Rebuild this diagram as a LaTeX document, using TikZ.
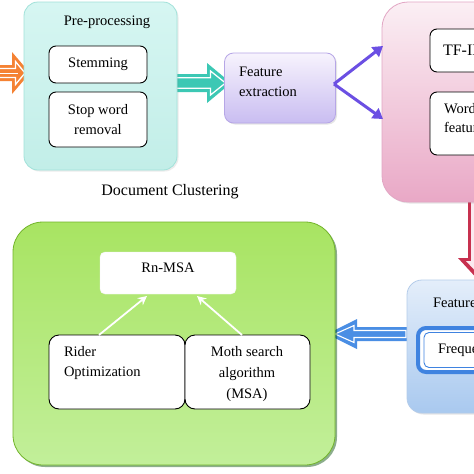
\documentclass[tikz,border=0pt]{standalone}
\usepackage{fontspec}
\setmainfont{Liberation Serif}
\usetikzlibrary{arrows.meta,shadows}
\definecolor{cyanT}{HTML}{D6F6F2}
\definecolor{cyanM}{HTML}{C2EEE8}
\definecolor{cyanB}{HTML}{A2E2DA}
\definecolor{featT}{HTML}{F7F3FD}
\definecolor{featBot}{HTML}{C9BDF1}
\definecolor{featB}{HTML}{B6A6E6}
\definecolor{pinkT}{HTML}{FBEFF4}
\definecolor{pinkBot}{HTML}{E9A8C6}
\definecolor{pinkB}{HTML}{E2A6C4}
\definecolor{grT}{HTML}{A8E462}
\definecolor{grM}{HTML}{8CDA30}
\definecolor{grB}{HTML}{C2EF9A}
\definecolor{grD}{HTML}{72B42A}
\definecolor{blT}{HTML}{E4EEFA}
\definecolor{blBot}{HTML}{A9C9EF}
\definecolor{blB}{HTML}{B4CCEA}
\definecolor{blA}{HTML}{4A8EE4}
\definecolor{blF}{HTML}{3F83E0}
\definecolor{redA}{HTML}{C7314F}
\definecolor{redI}{HTML}{FBEAF0}
\definecolor{orA}{HTML}{F58233}
\definecolor{teA}{HTML}{3CC8B4}
\definecolor{puA}{HTML}{6B4FE3}
\begin{document}
\begin{tikzpicture}[x=1pt,y=-1pt,
  txt/.style={font=\fontsize{14.5}{19.5}\selectfont, inner sep=0pt, outer sep=0pt, text=black},
  bigtxt/.style={font=\fontsize{16}{19.5}\selectfont, inner sep=0pt, outer sep=0pt, text=black},
  rbox/.style={draw=black, line width=0.9pt, fill=white, rounded corners=7pt, inner sep=0pt, outer sep=0pt},
  panel/.style={rounded corners=#1, inner sep=0pt, outer sep=0pt, line width=0.8pt},
  fatarrow/.style={fill=#1},
  innerline/.style={draw=white, line width=1.3pt, line join=miter},
]
\useasboundingbox (0,0) rectangle (474,474);
\clip (0,0) rectangle (474,474);
\fill[white] (0,0) rectangle (474,474);

% ---------- arrows behind panels ----------
% orange input arrow
\fill[fatarrow=orA] (-5,65) -- (12,65) -- (12,52) -- (30,73) -- (12,94) -- (12,81) -- (-5,81) -- cycle;
\draw[innerline] (-5,68.5) -- (15.5,68.5) -- (15.5,61.5) -- (25,73) -- (15.5,84.5) -- (15.5,77.5) -- (-5,77.5);
\draw[draw=white, line width=0.8pt] (-5,73) -- (18,73);

% teal arrow
\fill[fatarrow=teA] (170,74) -- (207,74) -- (207,63) -- (231,83) -- (207,103) -- (207,92) -- (170,92) -- cycle;
\draw[innerline] (170,77.8) -- (210.5,77.8) -- (210.5,71) -- (225.5,83) -- (210.5,95) -- (210.5,88.2) -- (170,88.2);

% ---------- Pre-processing panel ----------
\node[panel=14pt, draw=cyanB, top color=cyanT, bottom color=cyanM,
      minimum width=153pt, minimum height=168pt,
      drop shadow={shadow xshift=1.5pt, shadow yshift=-1.5pt, opacity=0.15}] (pre) at (100.5,86) {};
\node[txt] (preT) at (107,22) {Pre-processing};
\node[rbox, txt, minimum width=98pt, minimum height=37pt] (stem) at (98,64.5) {Stemming};
\node[rbox, txt, minimum width=98pt, minimum height=55pt, align=center] (stop) at (98,119.5) {Stop word\\removal};

% ---------- Feature extraction ----------
\node[panel=9pt, draw=featB, top color=featT, bottom color=featBot,
      minimum width=111pt, minimum height=70pt,
      drop shadow={shadow xshift=1.5pt, shadow yshift=-1.5pt, opacity=0.2}] (feat) at (280,88) {};
\node[txt, align=left, anchor=west] (featT) at (239,82) {Feature\\extraction};

% ---------- red arrow (down) ----------
\fill[fatarrow=redA] (468,198) -- (468,258) -- (458,258) -- (481,283) -- (504,258) -- (494,258) -- (494,198) -- cycle;
\fill[redI] (471,198) -- (471,261) -- (466,261) -- (481,277) -- (496,261) -- (491,261) -- (491,198) -- cycle;

% ---------- Pink panel ----------
\node[panel=26pt, draw=pinkB, top color=pinkT, bottom color=pinkBot,
      minimum width=140pt, minimum height=200pt,
      drop shadow={shadow xshift=1.5pt, shadow yshift=-1.5pt, opacity=0.2}] (pink) at (452,102) {};
\node[rbox, minimum width=100pt, minimum height=43pt] (tfidf) at (480,50.5) {};
\node[bigtxt, anchor=west] (tfidfT) at (443,50) {TF-IDF};
\node[rbox, minimum width=100pt, minimum height=63pt] (word) at (480,123.5) {};
\node[txt, anchor=west, align=left] (wordT) at (444,118) {Wordnet-based\\features};

% purple arrows
\coordinate (fe) at (334,84);
\coordinate (pA) at (383,46);
\coordinate (pB) at (383,119);
\draw[puA, line width=3pt, -{Triangle[length=10pt,width=12pt]}] (fe) -- (pA);
\draw[puA, line width=3pt, -{Triangle[length=10pt,width=12pt]}] (fe) -- (pB);

% ---------- Document Clustering ----------
\node[bigtxt] (title) at (170,192) {Document Clustering};

% ---------- blue arrow (left) ----------
\fill[fatarrow=blA] (412,327) -- (357,327) -- (357,319) -- (327,334) -- (357,349) -- (357,341) -- (412,341) -- cycle;
\draw[innerline, line width=1.1pt] (406,330.5) -- (354,330.5) -- (354,325.5) -- (335,334) -- (354,342.5) -- (354,337.5) -- (406,337.5) -- cycle;

% ---------- Blue panel ----------
\node[panel=15pt, draw=blB, top color=blT, bottom color=blBot,
      minimum width=123pt, minimum height=133pt,
      drop shadow={shadow xshift=1.5pt, shadow yshift=-1.5pt, opacity=0.2}] (sel) at (468.5,346.5) {};
\node[txt, anchor=west] (selT) at (433,303) {Feature selection};
\node[draw=blF, line width=4pt, fill=white, rounded corners=8pt, minimum width=122pt, minimum height=44pt, inner sep=0pt, outer sep=0pt] (freq) at (479,350) {};
\node[draw=blF, line width=0.9pt, rounded corners=5pt, minimum width=114pt, minimum height=35pt, inner sep=0pt, outer sep=0pt] (freqIn) at (481,350) {};
\node[txt, anchor=west] (freqT) at (438,350) {Frequency};

% ---------- Green panel ----------
\node[panel=30pt, draw=grD, top color=grT, middle color=grM, bottom color=grB,
      minimum width=322pt, minimum height=243pt,
      drop shadow={shadow xshift=2pt, shadow yshift=-2pt, opacity=0.45, fill=black!70!green}] (green) at (174,343.5) {};
\node[fill=white, draw=white!90!gray, rounded corners=5pt, minimum width=136pt, minimum height=42pt, inner sep=0pt, outer sep=0pt] (rn) at (168,273) {};
\node[txt] (rnT) at (168,268) {Rn-MSA};
\node[rbox, rounded corners=10pt, minimum width=136pt, minimum height=74pt] (rider) at (117,372) {};
\node[txt, anchor=west, align=left] (riderT) at (64,363) {Rider\\Optimization};
\node[rbox, rounded corners=10pt, minimum width=125pt, minimum height=74pt] (moth) at (247.5,372) {};
\node[font=\fontsize{14.5}{21}\selectfont, inner sep=0pt, align=center] (mothT) at (247,374) {Moth search\\algorithm\\(MSA)};

% white arrows
\coordinate (r1) at (99,335);
\coordinate (m1) at (242,335);
\coordinate (t1) at (147,296);
\coordinate (t2) at (197,296);
\draw[white, line width=1.8pt, -{Stealth[length=9pt,width=9pt]}] (r1) -- (t1);
\draw[white, line width=1.8pt, -{Stealth[length=9pt,width=9pt]}] (m1) -- (t2);
\end{tikzpicture}
\end{document}
